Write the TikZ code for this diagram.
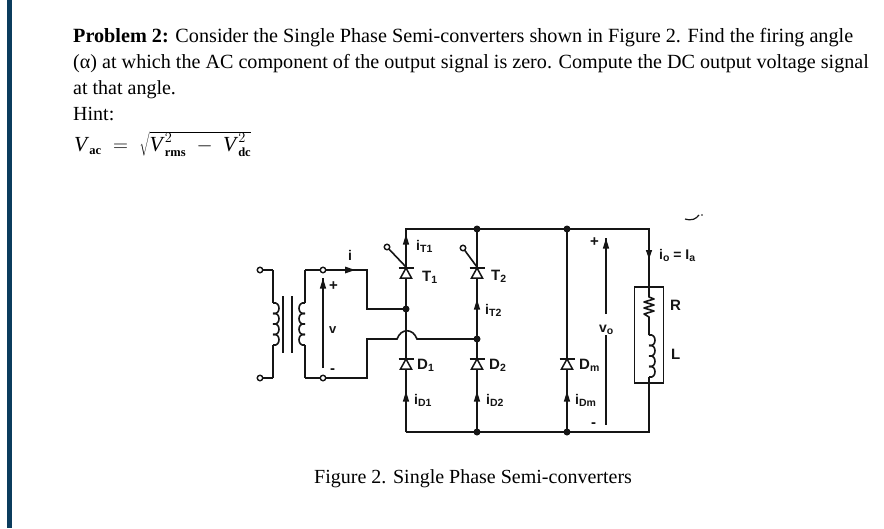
\documentclass[tikz,border=0pt]{standalone}
\usepackage{fontspec}
\setmainfont{Liberation Serif}
\setsansfont{Liberation Sans}
\definecolor{barblue}{HTML}{0B3C5D}
\definecolor{inkc}{HTML}{151515}
\newcommand{\bodysize}{\fontsize{20}{24}\selectfont}
\newcommand{\lab}[2]{\fontsize{#1}{#1}\selectfont\sffamily\bfseries #2}
\newcommand{\csub}[1]{\raisebox{-2.5pt}{\fontsize{10.5}{10.5}\selectfont #1}}
\newcommand{\fsub}[1]{\mbox{\fontsize{12.5}{12.5}\selectfont\textbf{#1}}}
\newcommand{\diodeat}[1]{%
  \filldraw[fill=white,draw=inkc,line width=1.5pt,line join=miter] ($(#1)+(-5.5,5)$) -- ($(#1)+(5.5,5)$) -- ($(#1)+(0,-5)$) -- cycle;
  \draw[inkc,line width=1.7pt] ($(#1)+(-7.5,-5)$) -- ($(#1)+(7.5,-5)$);
}
\newcommand{\uparrowat}[1]{\fill[inkc] ($(#1)+(-3.2,4.5)$) -- ($(#1)+(3.2,4.5)$) -- ($(#1)+(0,-5.5)$) -- cycle;}
\usetikzlibrary{calc}
\tikzset{
  wire/.style={draw=inkc,line width=1.6pt,line join=miter},
  thinwire/.style={draw=inkc,line width=1.2pt},
  dotj/.style={circle,fill=inkc,inner sep=0pt,minimum size=7pt},
  term/.style={circle,draw=inkc,fill=white,line width=1.4pt,inner sep=0pt,minimum size=5.5pt},
  para/.style={anchor=base west,inner sep=0pt,text=black,font=\bodysize},
  clab/.style={anchor=base west,inner sep=0pt,text=inkc},
}
\begin{document}
\begin{tikzpicture}[x=1pt,y=-1pt]
\useasboundingbox (0,0) rectangle (884,528);
\fill[white] (0,0) rectangle (884,528);
\fill[barblue] (7,0) rectangle (11.5,528);
% text
\node[para,font=\fontsize{20.2}{24}\selectfont] (l1) at (73,42) {\textbf{Problem 2:} Consider the Single Phase Semi-converters shown in Figure 2. Find the firing angle};
\node[para,font=\fontsize{20.12}{24}\selectfont] (l2) at (73,68) {(α) at which the AC component of the output signal is zero. Compute the DC output voltage signal};
\node[para] (l3) at (73,94) {at that angle.};
\node[para] (l4) at (73,120) {Hint:};
\node[anchor=base west,inner sep=0pt] (formula) at (74,151) {\fontsize{21.5}{26}\selectfont $\mbox{\textit{V}}_{\fsub{ac}}\;=\;\sqrt{\mbox{\textit{V}}^{2}_{\fsub{rms}}\;-\;\mbox{\textit{V}}^{2}_{\fsub{dc}}}$};
\node[para] (cap) at (314,483) {Figure 2. Single Phase Semi-converters};
% named points
\coordinate (tl) at (406,229); \coordinate (t2) at (477,229); \coordinate (tm) at (567,229); \coordinate (tr) at (649,229);
\coordinate (bl) at (406,432); \coordinate (b2) at (477,432); \coordinate (bm) at (567,432); \coordinate (br) at (649,432);
\coordinate (j1) at (406,309); \coordinate (j2) at (477,339);
\coordinate (boxt) at (649,286); \coordinate (boxb) at (649,382);
\coordinate (secT) at (305,270); \coordinate (secB) at (305,378);
\coordinate (ac1) at (367,270); \coordinate (ac1b) at (367,309);
\coordinate (ac2) at (367,378); \coordinate (ac2b) at (367,339);
\coordinate (hopL) at (397,339); \coordinate (hopR) at (417,339);
\coordinate (priT) at (273,270); \coordinate (priB) at (273,378);
% bridge wires
\draw[wire] (bl) -- (j1) -- (tl) -- (t2);
\draw[wire] (t2) -- (tm);
\draw[thinwire] (tm) -- (tr) -- (boxt);
\draw[thinwire] (boxb) -- (br) -- (bm);
\draw[wire] (t2) -- (b2);
\draw[wire] (bl) -- (b2) -- (bm);
\draw[wire] (tm) -- (bm);
% ac side
\draw[wire] (secT) -- (ac1) -- (ac1b) -- (j1);
\draw[wire] (secB) -- (ac2) -- (ac2b) -- (hopL) .. controls (401,328) and (413,328) .. (hopR) -- (j2);
% junctions
\foreach \n in {t2,tm,b2,bm,j1,j2} \node[dotj] (d\n) at (\n) {};
% transformer
\draw[wire] (priT) -- (273,303);
\foreach \k in {0,...,3} \draw[wire] (273,{303+10.5*\k}) .. controls (281,{301+10.5*\k}) and (281,{315.5+10.5*\k}) .. (273,{313.5+10.5*\k});
\draw[wire] (273,345) -- (priB);
\draw[wire] (secT) -- (305,303);
\foreach \k in {0,...,3} \draw[wire] (305,{303+10.5*\k}) .. controls (297,{301+10.5*\k}) and (297,{315.5+10.5*\k}) .. (305,{313.5+10.5*\k});
\draw[wire] (305,345) -- (secB);
\draw[wire] (283,296) -- (283,353);
\draw[wire] (292,296) -- (292,353);
\node[term] (p1) at (260,270) {};
\node[term] (p2) at (260,378) {};
\draw[wire] (p1) -- (priT);
\draw[wire] (p2) -- (priB);
\node[term] (s1) at (323,270) {};
\node[term] (s2) at (323,378) {};
% current i and voltage v
\fill[inkc] (345,266.5) -- (355,270) -- (345,273.5) -- cycle;
\node[clab] (ilab) at (348,260) {\lab{14}{i}};
\coordinate (vb) at (323,368); \coordinate (vt) at (323,278);
\draw[wire] (vb) -- (vt);
\uparrowat{323,284}
\node[clab] (vp) at (329,290) {\lab{15}{+}};
\node[clab] (vl) at (329,333) {\lab{13}{v}};
\node[clab] (vm) at (330,373) {\lab{15}{-}};
% devices
\diodeat{406,273} \diodeat{477,273} \diodeat{406,364} \diodeat{477,364} \diodeat{567,364}
\coordinate (g1) at (387,247); \coordinate (g1e) at (406,267);
\coordinate (g2) at (463,248); \coordinate (g2e) at (477,267);
\draw[wire] (g1) -- (g1e);
\draw[wire] (g2) -- (g2e);
\node[term] (gc1) at (g1) {};
\node[term] (gc2) at (g2) {};
% current arrows
\uparrowat{406,240} \uparrowat{477,305} \uparrowat{406,397} \uparrowat{477,397} \uparrowat{567,397}
\fill[inkc] (645.8,250) -- (652.2,250) -- (649,259) -- cycle;
% labels
\node[clab] (liT1) at (416,250) {\lab{14}{i\csub{T1}}};
\node[clab] (lT1) at (422,281) {\lab{15}{T\csub{1}}};
\node[clab] (lT2) at (491,280) {\lab{15}{T\csub{2}}};
\node[clab] (liT2) at (485,314) {\lab{14}{i\csub{T2}}};
\node[clab] (lD1) at (417,369) {\lab{15}{D\csub{1}}};
\node[clab] (lD2) at (489,369) {\lab{15}{D\csub{2}}};
\node[clab] (lDm) at (579,369) {\lab{15}{D\csub{m}}};
\node[clab] (liD1) at (414,404) {\lab{14}{i\csub{D1}}};
\node[clab] (liD2) at (486,404) {\lab{14}{i\csub{D2}}};
\node[clab] (liDm) at (575,404) {\lab{14}{i\csub{Dm}}};
% load
\node[draw=inkc,line width=1.5pt,fill=white,minimum width=29pt,minimum height=96pt,inner sep=0pt,anchor=north] (loadbox) at (boxt) {};
\draw[wire,line join=round] (649,286) -- (649,297) -- (654,299) -- (644,302) -- (654,305) -- (644,308) -- (654,311) -- (644,314) -- (649,317) -- (649,335);
\foreach \k in {0,...,3} \draw[wire] (649,{335+10.5*\k}) .. controls (657,{333+10.5*\k}) and (657,{347.5+10.5*\k}) .. (649,{345.5+10.5*\k});
\draw[wire] (649,377) -- (649,382);
\node[clab] (lR) at (670,310) {\lab{15}{R}};
\node[clab] (lL) at (671,359) {\lab{15}{L}};
\node[clab] (lio) at (659,259) {\lab{14}{i\csub{o} = I\csub{a}}};
% output voltage
\coordinate (vot) at (606,238); \coordinate (vom) at (606,314); \coordinate (vom2) at (606,335); \coordinate (vob) at (606,425);
\draw[thinwire] (vom) -- (vot);
\draw[thinwire] (vom2) -- (vob);
\uparrowat{606,244}
\node[clab] (lvo) at (599,332) {\lab{14}{v\csub{o}}};
\node[clab] (vop) at (590,246) {\lab{15}{+}};
\node[clab] (vom3) at (591,427) {\lab{15}{-}};
% stray mark
\draw[inkc,line width=1.2pt] (685,219) .. controls (692,221) and (696,219) .. (699,215);
\fill[inkc] (702,215) circle (0.8pt);
\end{tikzpicture}
\end{document}
